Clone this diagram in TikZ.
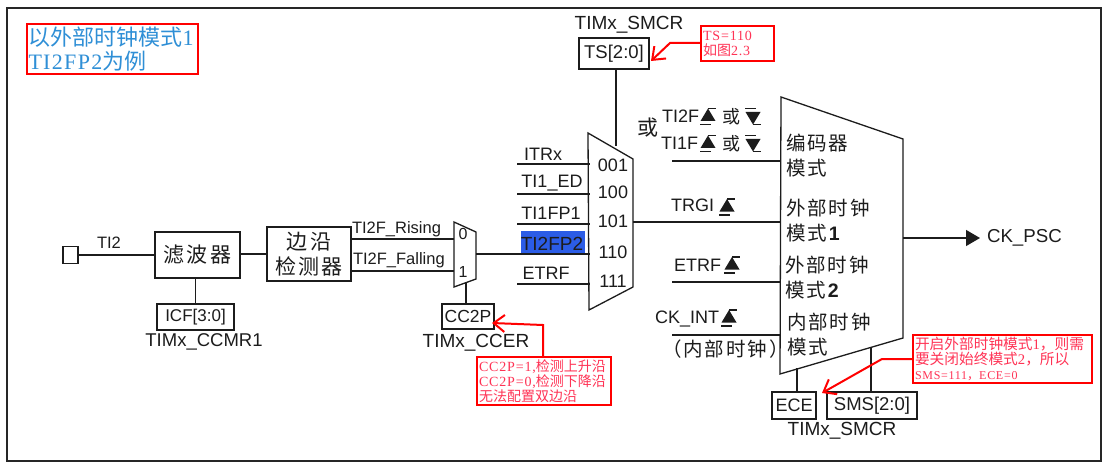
\documentclass[tikz,border=0pt]{standalone}
\usepackage{fontspec}
\setmainfont{Liberation Sans}
\newfontfamily\cjk{Noto Sans CJK SC}
\newfontfamily\cjks[LetterSpace=10]{Noto Sans CJK SC}
\newfontfamily\lser[LetterSpace=6]{Liberation Serif}
\newcommand{\Zh}[1]{{\cjk #1}}
\newcommand{\Zs}[1]{{\cjks #1}}
\newcommand{\Ls}[1]{{\lser #1}}
\usetikzlibrary{arrows.meta}
\definecolor{ink}{HTML}{1C1C1C}
\definecolor{hl}{HTML}{2B5CE6}
\definecolor{ttl}{HTML}{2F8FD6}
\definecolor{note}{HTML}{FF3355}
\tikzset{
  wire/.style={line width=1.3pt,draw=ink},
  box/.style={draw=ink,line width=1.5pt,inner sep=0pt,outer sep=0pt,text=ink},
  lab/.style={inner sep=0pt,outer sep=0pt,text=ink,font=\fontsize{18}{22}\selectfont},
  small/.style={lab,font=\fontsize{16.5}{20}\selectfont},
  reg/.style={lab,font=\fontsize{19}{24}\selectfont},
  zh/.style={lab,align=left,font=\fontsize{19.5}{25}\selectfont},
  callout/.style={draw=red,line width=2pt,inner sep=2pt,outer sep=0pt,align=left,text=note,
    font=\fontsize{14}{15}\selectfont},
  redarrow/.style={draw=red,line width=2pt,-{Straight Barb[length=11pt,width=17pt,line width=2pt]}},
  pics/rise/.style={code={
    \fill[ink] (-7.5,4.5) -- (7.5,4.5) -- (0,-8) -- cycle;
    \draw[ink,line width=1.3pt] (0,-8) -- (8,-8) (-8,8) -- (3,8);
  }},
  pics/fall/.style={code={
    \fill[ink] (-7.5,-4.5) -- (7.5,-4.5) -- (0,8) -- cycle;
    \draw[ink,line width=1.3pt] (0,8) -- (8,8) (-8,-8) -- (3,-8);
  }},
}
\begin{document}
\begin{tikzpicture}[x=1pt,y=-1pt]
\useasboundingbox (0,0) rectangle (1109,468);
\fill[white] (0,0) rectangle (1109,468);
% frame
\draw[line width=2pt,draw=black!85] (7,8) rectangle (1101,461);
% title
\node[draw=red,line width=1.2pt,inner sep=1.5pt,outer sep=0pt,minimum width=171pt,minimum height=50pt,
      text width=168pt,align=left,text=ttl,font=\fontsize{22}{24}\selectfont] (title) at (112.5,49)
  {\Zh{以外部时钟模式}\Ls{1}\\\Ls{TI2FP2}\Zh{为例}};
% input side
\node[box,minimum width=15pt,minimum height=17pt] (sq) at (70.5,255) {};
\node[box,minimum width=85pt,minimum height=46pt,font=\fontsize{21}{24}\selectfont] (filt) at (197.5,255) {\Zs{滤波器}};
\node[box,minimum width=84pt,minimum height=54pt,align=center,font=\fontsize{21}{25}\selectfont] (det) at (309,254) {\Zs{边沿}\\\Zs{检测器}};
\node[box,minimum width=77pt,minimum height=26pt,font=\fontsize{17}{20}\selectfont] (icf) at (195.5,317) {ICF[3:0]};
\node[reg,font=\fontsize{18.5}{24}\selectfont] (ccmr) at (204,342) {TIMx\_CCMR1};
\node[small] (ti2) at (109,243) {TI2};
\draw[wire] (sq.east) -- (filt.west);
\draw[wire] (filt.east |- det.west) -- (det.west);
\draw[wire] (filt.south -| icf.north) -- (icf.north);
% small mux
\coordinate (ma) at (454,222); \coordinate (mb) at (476,232);
\coordinate (mc) at (476,279); \coordinate (md) at (454,287);
\draw[wire] (ma) -- (mb) -- (mc) -- (md) -- cycle;
\coordinate (mi0) at (454,239); \coordinate (mi1) at (454,271);
\coordinate (mout) at (476,254);
\coordinate (mctl) at (466,283);
\draw[wire] (det.east |- mi0) -- (mi0);
\draw[wire] (det.east |- mi1) -- (mi1);
\node[small,anchor=west] (rising) at (352,229) {TI2F\_Rising};
\node[small,anchor=west] (falling) at (353,260) {TI2F\_Falling};
\node[lab,font=\fontsize{16}{18}\selectfont] (z0) at (463,234) {0};
\node[lab,font=\fontsize{16}{18}\selectfont] (z1) at (463,272) {1};
\node[box,minimum width=52pt,minimum height=25pt,font=\fontsize{17.5}{20}\selectfont] (cc2p) at (468,316.5) {CC2P};
\node[reg] (ccer) at (476,343) {TIMx\_CCER};
\draw[wire] (mctl) -- (mctl |- cc2p.north);
% big mux
\coordinate (ba) at (588,133); \coordinate (bb) at (633,159);
\coordinate (bc) at (633,287); \coordinate (bd) at (589,310);
\draw[wire] (ba) -- (bb) -- (bc) -- (bd) -- cycle;
\fill[hl] (521,231) rectangle (585,254);
\node[lab] (itrx) at (543,154) {ITRx};
\node[lab] (ti1ed) at (552,183) {TI1\_ED};
\node[lab] (ti1fp1) at (551,213) {TI1FP1};
\node[lab,font=\fontsize{19}{22}\selectfont] (ti2fp2) at (552,244) {TI2FP2};
\node[lab] (etrf) at (546,273) {ETRF};
\foreach \n/\y in {a/164,b/194,c/224,e/284}{
  \coordinate (l\n) at (517,\y); \coordinate (r\n) at (590,\y);
  \draw[wire] (l\n) -- (r\n);
}
\coordinate (bin) at (590,254);
\draw[wire] (mout) -- (bin);
\node[lab] (s001) at (613,165) {001};
\node[lab] (s100) at (613,192) {100};
\node[lab] (s101) at (613,221) {101};
\node[lab] (s110) at (613,252) {110};
\node[lab] (s111) at (613,281) {111};
% TS register
\node[box,minimum width=70pt,minimum height=31pt,font=\fontsize{18.5}{22}\selectfont] (ts) at (614,53.5) {TS[2:0]};
\node[reg] (smcr1) at (629,25) {TIMx\_SMCR};
\coordinate (btop) at (616,146);
\draw[wire] (ts.south -| btop) -- (btop);
% slave mode mux
\coordinate (ea) at (781,97); \coordinate (eb) at (903,139);
\coordinate (ec) at (903,338); \coordinate (ed) at (780,374);
\draw[wire] (ea) -- (eb) -- (ec) -- (ed) -- cycle;
\coordinate (out1) at (633,222); \coordinate (e2) at (781,222);
\draw[wire] (out1) -- (e2);
\foreach \n/\y in {f/161,g/282,h/335}{
  \coordinate (p\n) at (672,\y); \coordinate (q\n) at (781,\y);
  \draw[wire] (p\n) -- (q\n);
}
\node[lab,font=\fontsize{21}{24}\selectfont] (huo) at (648,128) {\Zh{或}};
\node[lab,anchor=west] (ti2f) at (662,116) {TI2F};
\node[lab,anchor=west] (ti1f) at (661,143) {TI1F};
\node[lab] (huoa) at (731,117) {\Zh{或}};
\node[lab] (huob) at (731,144) {\Zh{或}};
\pic at (708,116.5) {rise};
\pic at (753,116.5) {fall};
\pic at (708,143.5) {rise};
\pic at (753,143.5) {fall};
\node[lab,anchor=west] (trgi) at (671,205) {TRGI};
\pic at (727,207) {rise};
\node[lab,anchor=west] (etrf2) at (674,265) {ETRF};
\pic at (732,265) {rise};
\node[lab,anchor=west] (ckint) at (655,319) {CK\_INT};
\pic at (729,318) {rise};
\node[zh,anchor=west] (neibu) at (662,349) {\Zs{（内部时钟）}};
\node[zh,anchor=west] (enc) at (786,155.5) {\Zs{编码器}\\\Zs{模式}};
\node[zh,anchor=west] (ext1) at (786,220.5) {\Zs{外部时钟}\\\Zs{模式}\textbf{1}};
\node[zh,anchor=west] (ext2) at (785,277.5) {\Zs{外部时钟}\\\Zs{模式}\textbf{2}};
\node[zh,anchor=west] (int) at (787,334.5) {\Zs{内部时钟}\\\Zs{模式}};
% output
\coordinate (eout) at (903,238);
\node[lab,anchor=west,font=\fontsize{18.7}{22}\selectfont] (ckpsc) at (987,238) {CK\_PSC};
\coordinate (ckend) at (980,238);
\draw[wire,-{Triangle[length=14pt,width=16pt]}] (eout) -- (ckend);
% ECE / SMS
\node[box,minimum width=44pt,minimum height=27pt] (ece) at (794,405.5) {\fontsize{18}{22}\selectfont ECE};
\node[box,minimum width=90pt,minimum height=27pt] (sms) at (872,405.5) {\fontsize{18.5}{22}\selectfont SMS[2:0]};
\node[reg] (smcr2) at (842,431) {TIMx\_SMCR};
\coordinate (ectl) at (797,368); \coordinate (sctl) at (871,347);
\draw[wire] (ectl) -- (ectl |- ece.north);
\draw[wire] (sctl) -- (sctl |- sms.north);
% red callouts
\node[callout,minimum width=73pt,minimum height=35pt,text width=69pt] (tsnote) at (737.5,43.5)
  {\Ls{TS=110}\\\Zh{如图}\Ls{2.3}};
\coordinate (tsbend) at (670,43); \coordinate (tstip) at (651,61);
\draw[redarrow] (tsnote.west |- tsbend) -- (tsbend) -- (tstip);
\node[callout,minimum width=134pt,minimum height=48pt,text width=130pt] (ccnote) at (544,381)
  {\Ls{CC2P=1,}\Zh{检测上升沿}\\\Ls{CC2P=0,}\Zh{检测下降沿}\\\Zh{无法配置双边沿}};
\coordinate (ccbend) at (543,325); \coordinate (cctip) at (492,323);
\draw[redarrow] (ccnote.north -| ccbend) -- (ccbend) -- (cctip);
\node[callout,minimum width=179pt,minimum height=48pt,text width=175pt,font=\fontsize{14.7}{15}\selectfont] (smsnote) at (1002.5,359)
  {\Zh{开启外部时钟模式}\Ls{1}\Zh{，则需}\\\Zh{要关闭始终模式}\Ls{2}\Zh{，所以}\\{\fontsize{12}{15}\selectfont\Ls{SMS=111}\Zh{，}\Ls{ECE=0}}};
\coordinate (smsbend) at (882,359); \coordinate (smstip) at (822,393);
\draw[redarrow] (smsnote.west) -- (smsbend) -- (smstip);
\end{tikzpicture}
\end{document}
